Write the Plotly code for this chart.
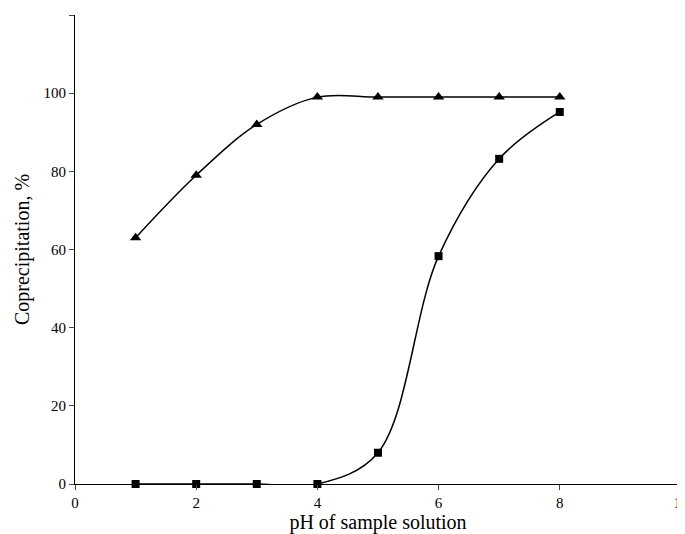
import plotly.graph_objects as go

ph = [1, 2, 3, 4, 5, 6, 7, 8]
series_triangle = [63, 79, 92, 99, 99, 99, 99, 99]
series_square = [0, 0, 0, 0, 8, 58.3, 83.2, 95.2]
x_ticks = [0, 2, 4, 6, 8, 10]
y_ticks = [0, 20, 40, 60, 80, 100, 120]

fig = go.Figure()
fig.add_trace(go.Scatter(x=ph, y=series_triangle, mode="lines+markers", cliponaxis=False,
    line=dict(color="black", width=1.5, shape="spline", smoothing=1),
    marker=dict(symbol="triangle-up", size=10, color="black")))
fig.add_trace(go.Scatter(x=ph, y=series_square, mode="lines+markers", cliponaxis=False,
    line=dict(color="black", width=1.5, shape="spline", smoothing=1),
    marker=dict(symbol="square", size=8, color="black")))

font = dict(family="Liberation Serif", color="black")
fig.update_layout(
    width=685, height=534, showlegend=False,
    plot_bgcolor="white", paper_bgcolor="white",
    margin=dict(l=67, r=12, t=7, b=58),
    font=font,
    xaxis=dict(range=[0, 10.001], tickvals=x_ticks, showgrid=False, zeroline=False,
               showline=True, linecolor="black", ticks="outside", ticklen=5,
               automargin=False, tickfont=dict(size=15, **font),
               title=dict(text="pH of sample solution", font=dict(size=20, **font), standoff=2)),
    yaxis=dict(range=[0, 120.01], tickvals=y_ticks, showgrid=False, zeroline=False,
               showline=True, linecolor="black", ticks="outside", ticklen=5,
               automargin=False, tickfont=dict(size=15, **font),
               title=dict(text="Coprecipitation, %", font=dict(size=20, **font), standoff=8)),
)
fig.write_html("out.html")
